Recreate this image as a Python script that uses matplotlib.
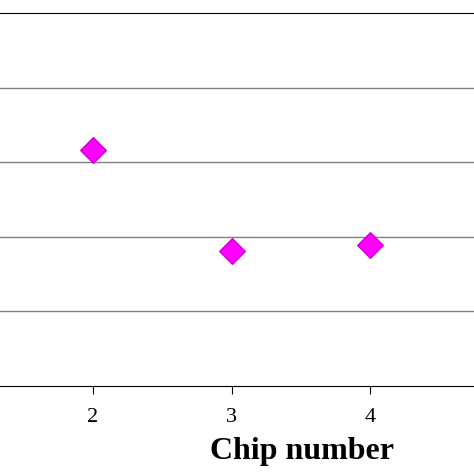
import matplotlib
matplotlib.use('Agg')
import matplotlib.pyplot as plt

chips = [2, 3, 4]
values = [3.16, 1.81, 1.89]
xticks = [2, 3, 4]

fig = plt.figure(figsize=(4.74, 4.74), dpi=100)
ax = fig.add_axes([0.0, 0.1857, 1.0, 0.7869])
ax.set_xlim(1.328, 4.751)
ax.set_ylim(0, 5)
for y in [1, 2, 3, 4]:
    ax.axhline(y, color='#808080', lw=1.0, zorder=1)
ax.scatter(chips, values, marker='D', s=170, color='#ff00ff', edgecolors='#cc00cc', zorder=3)
ax.spines['left'].set_visible(False)
ax.spines['right'].set_visible(False)
ax.set_yticks([])
ax.set_xticks(xticks)
ax.set_xticklabels([str(t) for t in xticks], fontfamily='Liberation Serif', fontsize=16)
ax.tick_params(axis='x', direction='out', length=6, pad=10)
fig.text(302 / 474, 1 - 452 / 474, 'Chip number', ha='center', va='center',
         fontfamily='Liberation Serif', fontweight='bold', fontsize=23)
fig.savefig('out.png', dpi=100)
